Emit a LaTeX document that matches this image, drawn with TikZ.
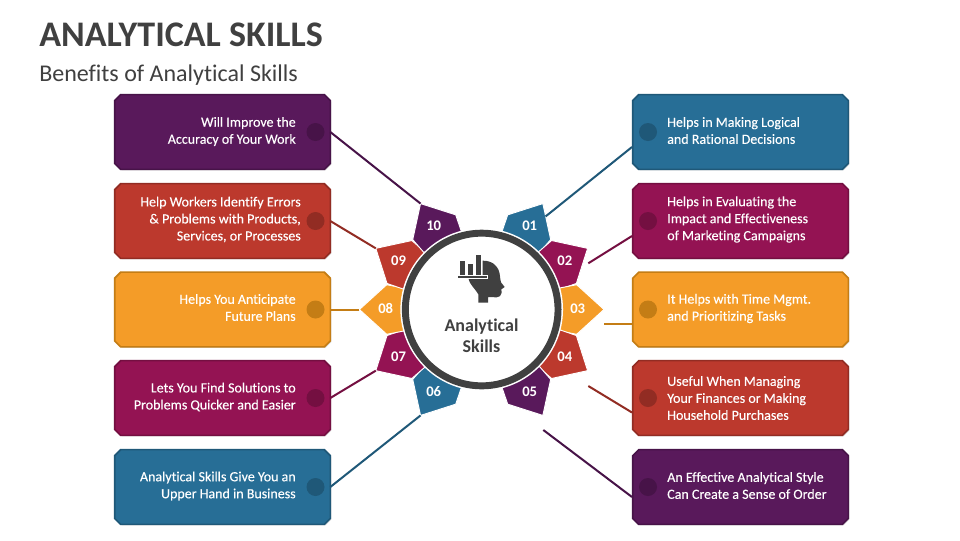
\documentclass[tikz,border=0pt]{standalone}
\usepackage{fontspec}
\setmainfont{Carlito}[Ligatures=NoCommon]
\newfontfamily\cardfont{Carlito}[Ligatures=NoCommon,FakeBold=0.2]
\usetikzlibrary{shadows}
\definecolor{cpurple}{HTML}{59195B}\definecolor{dpurple}{HTML}{471348}
\definecolor{cred}{HTML}{BC392D}\definecolor{dred}{HTML}{922C23}
\definecolor{corange}{HTML}{F49C28}\definecolor{dorange}{HTML}{C47D15}
\definecolor{cmag}{HTML}{941353}\definecolor{dmag}{HTML}{740F41}
\definecolor{cblue}{HTML}{276E96}\definecolor{dblue}{HTML}{1F5878}
\definecolor{ink}{HTML}{404040}
\newcommand{\cardat}[5]{% name, cx, cy, fill, border
 \node[cardbox] (c#1) at (#2,#3) {};
 \path[cardface={#4}{#5}] ([xshift=4.5pt]c#1.north west) -- ([xshift=-4.5pt]c#1.north east)
   -- ([yshift=-4.5pt]c#1.north east) -- ([yshift=4.5pt]c#1.south east)
   -- ([xshift=-4.5pt]c#1.south east) -- ([xshift=4.5pt]c#1.south west)
   -- ([yshift=4.5pt]c#1.south west) -- ([yshift=-4.5pt]c#1.north west) -- cycle;
}
\tikzset{
 x=0.75pt,y=-0.75pt,
 cardbox/.style={rectangle,minimum width=161.7pt,minimum height=56pt,inner sep=0pt,outer sep=0pt},
 cardface/.style 2 args={fill=#1,draw=#2,line width=1.2pt,line join=miter,
   drop shadow={shadow xshift=0.8pt,shadow yshift=-0.8pt,opacity=.3}},
 dot/.style={circle,minimum size=13.5pt,inner sep=0pt,fill=#1},
 conn/.style={line width=1.5pt,draw=#1},
 petal/.style={fill=#1,draw=white,line width=0.7pt,line join=miter},
 num/.style={text=white,font=\fontsize{11}{12}\selectfont\bfseries,inner sep=0pt},
 ltext/.style={text=white,font=\cardfont\fontsize{10.5}{12.75}\selectfont,align=left,anchor=west,inner sep=0pt},
 rtext/.style={text=white,font=\cardfont\fontsize{10.5}{12.75}\selectfont,align=right,anchor=east,inner sep=0pt},
}
\begin{document}
\begin{tikzpicture}
\useasboundingbox (0,0) rectangle (960,540);
\fill[white] (0,0) rectangle (960,540);
\node[anchor=west,inner sep=0pt,text=ink,font=\fontsize{27}{30}\selectfont\bfseries] (title) at (39,34.5) {ANALYTICAL SKILLS};
\node[anchor=west,inner sep=0pt,text=ink,font=\fontsize{18}{22}\selectfont] (sub) at (39,75) {Benefits of Analytical Skills};
% cards
\foreach \nm/\yy/\col/\dk in {10/132/cpurple/dpurple,09/221/cred/dred,08/309.5/corange/dorange,07/398/cmag/dmag,06/487/cblue/dblue}{
 \cardat{\nm}{222.5}{\yy}{\col}{\dk}
 \node[dot=\dk] (d\nm) at (315.5,\yy) {};
}
\foreach \nm/\yy/\col/\dk in {01/132/cblue/dblue,02/221/cmag/dmag,03/309.5/corange/dorange,04/398/cred/dred,05/487/cpurple/dpurple}{
 \cardat{\nm}{740.5}{\yy}{\col}{\dk}
 \node[dot=\dk] (d\nm) at (648,\yy) {};
}
% card texts
\node[rtext] (t10) at (296,131.5) {Will Improve the\\Accuracy of Your Work};
\node[rtext] (t09) at (301,219.5) {Help Workers Identify Errors\\\& Problems with Products,\\Services, or Processes};
\node[rtext] (t08) at (296,307.5) {Helps You Anticipate\\Future Plans};
\node[rtext] (t07) at (296,397) {Lets You Find Solutions to\\Problems Quicker and Easier};
\node[rtext] (t06) at (296,486) {Analytical Skills Give You an\\Upper Hand in Business};
\node[ltext] (t01) at (667,130.5) {Helps in Making Logical\\and Rational Decisions};
\node[ltext] (t02) at (667,219.5) {Helps in Evaluating the\\Impact and Effectiveness\\of Marketing Campaigns};
\node[ltext] (t03) at (667,308.5) {It Helps with Time Mgmt.\\and Prioritizing Tasks};
\node[ltext] (t04) at (667,398) {Useful When Managing\\Your Finances or Making\\Household Purchases};
\node[ltext] (t05) at (667,485.5) {An Effective Analytical Style\\Can Create a Sense of Order};
% petals
\foreach \nm/\ang/\col in {01/60/cblue,02/30/cmag,03/0/corange,04/-30/cred,05/-60/cpurple,06/-120/cblue,07/-150/cmag,08/180/corange,09/150/cred,10/120/cpurple}{
 \begin{scope}[shift={(481.7,309.5)},rotate=\ang]
  \path[petal=\col] (78,-21.5) -- (95,-24.8) -- (122.3,0) -- (95,24.8) -- (78,21.5) -- cycle;
  \coordinate (tip\nm) at (122.3,0);
  \node[num] (n\nm) at (96,0) {\raisebox{1.6pt}{\nm}};
 \end{scope}
}
% connectors
\coordinate (s01) at (545.5,216.5);\coordinate (e01) at (632,147);
\coordinate (s02) at (588.3,263.3);\coordinate (e02) at (632,236);
\coordinate (s03) at (604,324);\coordinate (e03) at (632,324);
\coordinate (s04) at (588.3,386);\coordinate (e04) at (632,412.5);
\coordinate (s05) at (543.3,430);\coordinate (e05) at (632,497);
\draw[conn=dblue] (s01) -- (e01);
\draw[conn=dmag] (s02) -- (e02);
\draw[conn=dorange] (s03) -- (e03);
\draw[conn=dred] (s04) -- (e04);
\draw[conn=dpurple] (s05) -- (e05);
\draw[conn=dpurple] (tip10) -- (c10.east);
\draw[conn=dred] (tip09) -- (c09.east);
\draw[conn=dorange] (tip08) -- (c08.east);
\draw[conn=dmag] (tip07) -- (c07.east);
\draw[conn=dblue] (tip06) -- (c06.east);
% hub
\node[circle,fill=white,minimum size=122pt,inner sep=0pt] (halo) at (481.7,309.5) {};
\node[circle,draw=ink,fill=white,line width=5.2pt,minimum size=114.5pt,inner sep=0pt] (hub) at (481.7,309.5) {};
\node[inner sep=0pt,text=ink,align=center,font=\fontsize{13.5}{15.8}\selectfont\bfseries] (hubt) at (481.5,335.5) {Analytical\\Skills};
% icon
\begin{scope}[shift={(440,245)},x=0.25pt,y=-0.25pt]
 \fill[ink] (128,47) .. controls (155,47) and (172,60) .. (178,82)
   .. controls (181,95) and (180,105) .. (183,112) -- (194,126) -- (184,133) -- (185,143)
   .. controls (184,152) and (178,157) .. (170,157) -- (144,156) -- (144,173) -- (115,173) -- (115,148)
   .. controls (105,130) and (88,118) .. (85,100) -- (128,100) -- cycle;
 \fill[white] (52,91) rectangle (143,101);
 \fill[ink] (60,48) rectangle (75,91);
 \fill[ink] (84,58) rectangle (99,91);
 \fill[ink] (108,30) rectangle (124,91);
 \fill[ink] (54,94) rectangle (141,98);
\end{scope}
\end{tikzpicture}
\end{document}
